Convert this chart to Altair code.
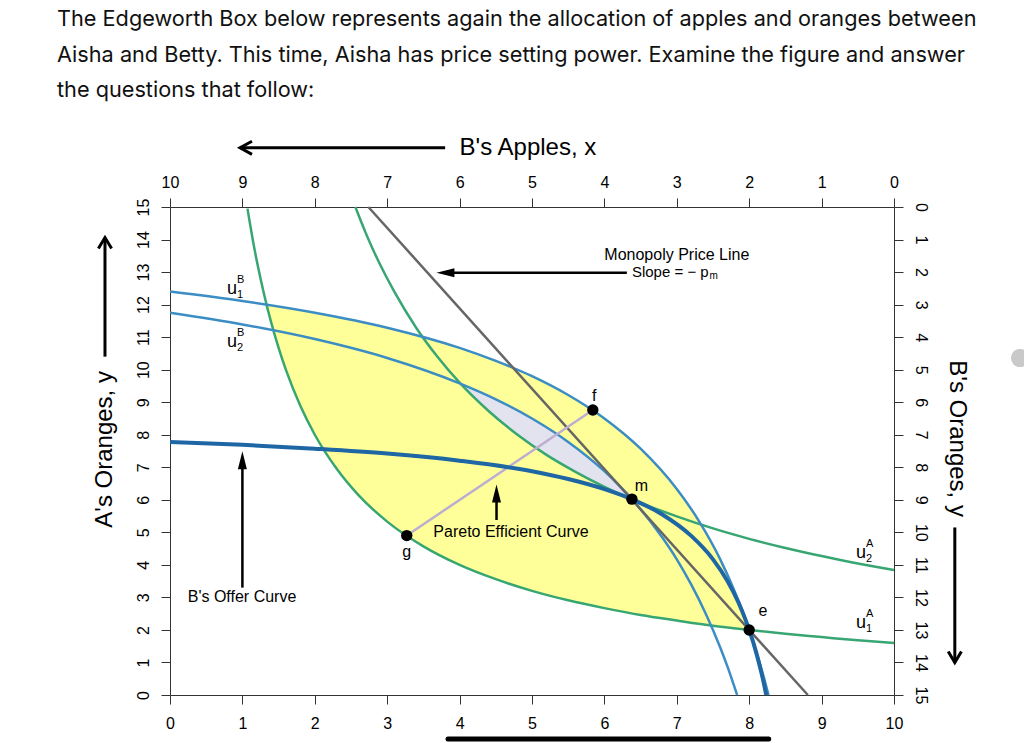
import altair as alt
import pandas as pd

FONT = "Liberation Sans"

HEADER_LINES = [
    "The Edgeworth Box below represents again the allocation of apples and oranges between",
    "Aisha and Betty. This time, Aisha has price setting power. Examine the figure and answer",
    "the questions that follow:",
]

# Axis ticks
A_APPLE_TICKS = list(range(0, 11))
A_ORANGE_TICKS = list(range(0, 16))
B_APPLE_TICKS = list(range(10, -1, -1))
B_ORANGE_TICKS = list(range(0, 16))

# A's indifference curves (A's apples x, A's oranges y)
uA1_x = [1.07, 1.10, 1.15, 1.20, 1.30, 1.40, 1.50, 1.60, 1.80, 2.00, 2.30, 2.60, 3.00, 3.50, 4.00,
         4.50, 5.00, 5.50, 6.00, 6.50, 7.00, 7.50, 8.00, 8.50, 9.00, 9.50, 10.0]
uA1_y = [14.95, 14.55, 13.91, 13.33, 12.31, 11.43, 10.67, 10.00, 8.89, 8.00, 6.96, 6.15, 5.33, 4.57, 4.00,
         3.56, 3.20, 2.91, 2.67, 2.46, 2.29, 2.13, 2.00, 1.88, 1.78, 1.68, 1.60]
uA2_x = [2.56, 2.62, 2.70, 2.80, 2.90, 3.10, 3.40, 3.70, 4.00, 4.40, 4.80, 5.20, 5.60, 6.00, 6.40,
         7.00, 7.50, 8.00, 8.50, 9.00, 9.50, 10.0]
uA2_y = [15.0, 14.66, 14.22, 13.71, 13.24, 12.39, 11.29, 10.38, 9.60, 8.73, 8.00, 7.38, 6.86, 6.40, 6.00,
         5.49, 5.12, 4.80, 4.52, 4.27, 4.04, 3.84]

# B's indifference curves
uB1_x = [0, 1, 2, 3, 4, 4.5, 5, 5.5, 6, 6.5, 7, 7.3, 7.6, 7.8, 7.9, 8.0, 8.05, 8.1, 8.15, 8.2, 8.267]
uB1_y = [12.40, 12.11, 11.75, 11.29, 10.67, 10.27, 9.80, 9.22, 8.50, 7.57, 6.33, 5.37, 4.17, 3.18, 2.62,
         2.00, 1.67, 1.32, 0.95, 0.56, 0.0]
uB2_x = [0, 1, 2, 3, 4, 4.5, 5, 5.5, 6, 6.4, 6.8, 7.0, 7.2, 7.4, 7.6, 7.7, 7.833]
uB2_y = [11.75, 11.39, 10.94, 10.36, 9.58, 9.09, 8.50, 7.78, 6.88, 5.97, 4.84, 4.17, 3.39, 2.50, 1.46, 0.87, 0.0]

# B's offer curve
offer_x = [0, 1, 2, 3, 4, 5, 5.5, 6, 6.4, 6.8, 7.2, 7.5, 7.7, 7.85, 7.95, 8.0, 8.1, 8.15, 8.2, 8.235]
offer_y = [7.78, 7.69, 7.57, 7.42, 7.20, 6.88, 6.64, 6.33, 6.00, 5.55, 4.89, 4.17, 3.50, 2.85, 2.31,
           2.00, 1.28, 0.85, 0.38, 0.0]

# Monopoly price line and Pareto efficient (contract) curve
price_x = [2.74, 8.81]
price_y = [15.0, 0.0]
pareto_x = [3.27, 5.84]
pareto_y = [4.90, 8.76]

# Marked allocations
pt_name = ["e", "m", "f", "g"]
pt_x = [8.00, 6.38, 5.84, 3.27]
pt_y = [2.00, 6.02, 8.76, 4.90]

# Lens of mutually beneficial trades (between u1A and u1B)
lens_x = [1.333, 1.36, 1.40, 1.45, 1.50, 1.60, 1.70, 1.80, 2.00, 2.20, 2.50, 2.80, 3.20, 3.60, 4.00,
          4.50, 5.00, 5.50, 6.00, 6.50, 7.00, 7.30, 7.60, 7.80, 7.90, 8.00]
lens_top = [12.00, 11.99, 11.98, 11.96, 11.94, 11.90, 11.87, 11.83, 11.75, 11.67, 11.53, 11.39, 11.18,
            10.94, 10.67, 10.27, 9.80, 9.22, 8.50, 7.57, 6.33, 5.37, 4.17, 3.18, 2.62, 2.00]
lens_bot = [12.00, 11.76, 11.43, 11.03, 10.67, 10.00, 9.41, 8.89, 8.00, 7.27, 6.40, 5.71, 5.00,
            4.44, 4.00, 3.56, 3.20, 2.91, 2.67, 2.46, 2.29, 2.19, 2.11, 2.05, 2.03, 2.00]

# Lens between u2A and u2B
lens2_x = [4.01, 4.20, 4.40, 4.60, 4.80, 5.00, 5.20, 5.40, 5.60, 5.80, 6.00, 6.20, 6.38]
lens2_top = [9.574, 9.397, 9.196, 8.981, 8.750, 8.500, 8.229, 7.935, 7.614, 7.262, 6.875, 6.447, 6.022]
lens2_bot = [9.576, 9.143, 8.727, 8.348, 8.000, 7.680, 7.385, 7.111, 6.857, 6.621, 6.400, 6.194, 6.019]

GREEN = "#38a672"
BLUE = "#3b8dc4"
DARKBLUE = "#1f66a5"
GRAY = "#666666"
LILAC = "#bcaed0"
YELLOW = "#ffff99"
LAVENDER = "#e3e3ef"

LBL = 16  # annotation font size


def xsc():
    return alt.Scale(domain=[0, 10], nice=False, zero=False)


def ysc():
    return alt.Scale(domain=[0, 15], nice=False, zero=False)


def X(f="x"):
    return alt.X(f"{f}:Q", scale=xsc(), axis=None)


def Y(f="y"):
    return alt.Y(f"{f}:Q", scale=ysc(), axis=None)


def curve(xv, yv, color, width):
    df = pd.DataFrame({"x": xv, "y": yv})
    return alt.Chart(df).mark_line(color=color, strokeWidth=width, interpolate="monotone").encode(
        x=X(), y=Y())


def text_at(txt, x, y, size=LBL, align="center", baseline="middle", dx=0, dy=0, angle=0, font=FONT):
    df = pd.DataFrame({"t": [txt], "x": [x], "y": [y]})
    kw = dict(fontSize=size, font=font, align=align, baseline=baseline, dx=dx, dy=dy, color="black")
    if angle:
        kw["angle"] = angle
    return alt.Chart(df).mark_text(**kw).encode(x=X(), y=Y(), text="t:N")


def symbol(x, y, shape, size, filled=True, sw=2.5):
    df = pd.DataFrame({"x": [x], "y": [y]})
    return alt.Chart(df).mark_point(shape=shape, size=size, filled=filled, opacity=1, color="black",
                                    strokeWidth=sw).encode(x=X(), y=Y())


def hrule(x1, x2, y, width=2.5, color="black", cap="butt"):
    df = pd.DataFrame({"x": [x1], "x2": [x2], "y": [y]})
    return alt.Chart(df).mark_rule(color=color, strokeWidth=width, strokeCap=cap).encode(
        x=X(), x2="x2:Q", y=Y())


def vrule(x, y1, y2, width=2.5, color="black"):
    df = pd.DataFrame({"x": [x], "y": [y1], "y2": [y2]})
    return alt.Chart(df).mark_rule(color=color, strokeWidth=width).encode(
        x=X(), y=Y(), y2="y2:Q")


layers = []

# fills
lens_df = pd.DataFrame({"x": lens_x, "top": lens_top, "bot": lens_bot})
layers.append(alt.Chart(lens_df).mark_area(color=YELLOW, opacity=1, interpolate="monotone").encode(
    x=X(), y=Y("top"), y2="bot:Q"))
lens2_df = pd.DataFrame({"x": lens2_x, "top": lens2_top, "bot": lens2_bot})
layers.append(alt.Chart(lens2_df).mark_area(color=LAVENDER, opacity=1, interpolate="monotone").encode(
    x=X(), y=Y("top"), y2="bot:Q"))

# curves
layers.append(curve(uA1_x, uA1_y, GREEN, 2.5))
layers.append(curve(uA2_x, uA2_y, GREEN, 2.5))
layers.append(curve(uB1_x, uB1_y, BLUE, 2.5))
layers.append(curve(uB2_x, uB2_y, BLUE, 2.5))
layers.append(curve(price_x, price_y, GRAY, 2.5))
layers.append(curve(pareto_x, pareto_y, LILAC, 2.5))
layers.append(curve(offer_x, offer_y, DARKBLUE, 4))

# points
pts_df = pd.DataFrame({"name": pt_name, "x": pt_x, "y": pt_y})
layers.append(alt.Chart(pts_df).mark_circle(size=130, color="black", opacity=1).encode(x=X(), y=Y()))

# point labels
layers.append(text_at("e", 8.19, 2.57))
layers.append(text_at("m", 6.51, 6.41))
layers.append(text_at("f", 5.86, 9.20))
layers.append(text_at("g", 3.27, 4.41))

# utility labels
for sup, sub, ux, uy in [("B", "1", 0.856, 12.48), ("B", "2", 0.856, 10.84),
                         ("A", "2", 9.544, 4.37), ("A", "1", 9.544, 2.20)]:
    layers.append(text_at("u", ux, uy, size=18))
    layers.append(text_at(sup, ux, uy, size=11, align="left", dx=5, dy=-9))
    layers.append(text_at(sub, ux, uy, size=11, align="left", dx=5, dy=6))

# annotations
LEFT_HEAD = "M0,0L2,-0.5L2,0.5Z"
UP_HEAD = "M0,0L-0.5,2L0.5,2Z"
layers.append(text_at("Monopoly Price Line", 7.0, 13.51))
layers.append(text_at("Slope = \u2212 p", 7.44, 13.0, size=15, align="right"))
layers.append(text_at("m", 7.45, 13.0, size=10, align="left", dy=4))
layers.append(hrule(3.82, 6.31, 12.98))
layers.append(symbol(3.68, 12.98, LEFT_HEAD, 324))

layers.append(text_at("Pareto Efficient Curve", 4.71, 5.0))
layers.append(vrule(4.51, 5.38, 6.20))
layers.append(symbol(4.51, 6.47, UP_HEAD, 324))

layers.append(text_at("B's Offer Curve", 0.995, 3.0))
layers.append(vrule(1.0, 3.30, 7.20))
layers.append(symbol(1.0, 7.49, UP_HEAD, 324))

# axis titles with arrows
layers.append(text_at("B's Apples, x", 4.0, 16.82, size=24, align="left"))
layers.append(hrule(0.967, 3.80, 16.82, width=3))
layers.append(symbol(0.967, 16.82, "M2,-1.1L0,0L2,1.1", 144, filled=False, sw=3))

layers.append(text_at("A's Oranges, y", -0.898, 7.55, size=24, angle=270))
layers.append(vrule(-0.898, 10.40, 14.06, width=3))
layers.append(symbol(-0.898, 14.06, "M-1.2,2L0,0L1.2,2", 121, filled=False, sw=3))

layers.append(text_at("B's Oranges, y", 10.87, 7.88, size=24, angle=90))
layers.append(vrule(10.84, 5.15, 1.0, width=3))
layers.append(symbol(10.84, 1.0, "M-1.2,-2L0,0L1.2,-2", 121, filled=False, sw=3))

# cut-off bottom title (as in the reference, it runs past the bottom edge)
layers.append(hrule(3.84, 8.27, -1.35, width=5, cap="round"))
layers.append(text_at("A's Apples, x", 5.12, -1.40, size=24, baseline="top"))

# header text
for i, line in enumerate(HEADER_LINES):
    hdf = pd.DataFrame({"t": [line]})
    layers.append(alt.Chart(hdf).mark_text(font="Inter", fontSize=21.7, align="left", baseline="middle",
                                           color="#111111").encode(
        text="t:N", x=alt.value(-113), y=alt.value(-188 + 35.5 * i)))

# page scroll marker at the right edge
layers.append(alt.Chart(pd.DataFrame({"t": [0]})).mark_circle(size=330, color="#c9c9c9", opacity=1).encode(
    x=alt.value(850), y=alt.value(151)))

# axes
ax_df = pd.DataFrame({"x": [0, 10], "y": [0, 15]})
common = dict(labelFont=FONT, labelFontSize=16, labelColor="black", tickColor="#333333",
              domainColor="#333333", tickSize=9, tickWidth=1, domainWidth=1, grid=False, title=None,
              labelFlush=False, labelOverlap=False, format="d")
axis_bl = alt.Chart(ax_df).mark_point(opacity=0).encode(
    x=alt.X("x:Q", scale=alt.Scale(domain=[0, 10], nice=False, zero=False),
            axis=alt.Axis(orient="bottom", values=A_APPLE_TICKS, labelPadding=11, **common)),
    y=alt.Y("y:Q", scale=alt.Scale(domain=[0, 15], nice=False, zero=False),
            axis=alt.Axis(orient="left", values=A_ORANGE_TICKS, labelAngle=270, labelAlign="center",
                          labelBaseline="bottom", labelPadding=10, **common)),
)
axis_tr = alt.Chart(ax_df).mark_point(opacity=0).encode(
    x=alt.X("x:Q", scale=alt.Scale(domain=[10, 0], nice=False, zero=False),
            axis=alt.Axis(orient="top", values=B_APPLE_TICKS, labelPadding=8, **common)),
    y=alt.Y("y:Q", scale=alt.Scale(domain=[15, 0], nice=False, zero=False),
            axis=alt.Axis(orient="right", values=B_ORANGE_TICKS, labelAngle=90, labelAlign="center",
                          labelBaseline="bottom", labelPadding=9, **common)),
)

data_group = alt.layer(*layers)
chart = alt.layer(data_group, axis_bl, axis_tr).resolve_scale(
    x="independent", y="independent"
).properties(
    width=724, height=488,
    padding={"left": 170, "top": 207, "right": 130, "bottom": 48},
    autosize=alt.AutoSizeParams(type="none"),
    background="white",
).configure_view(stroke=None)

chart.save("out.html", embed_options={"renderer": "svg", "actions": False})
